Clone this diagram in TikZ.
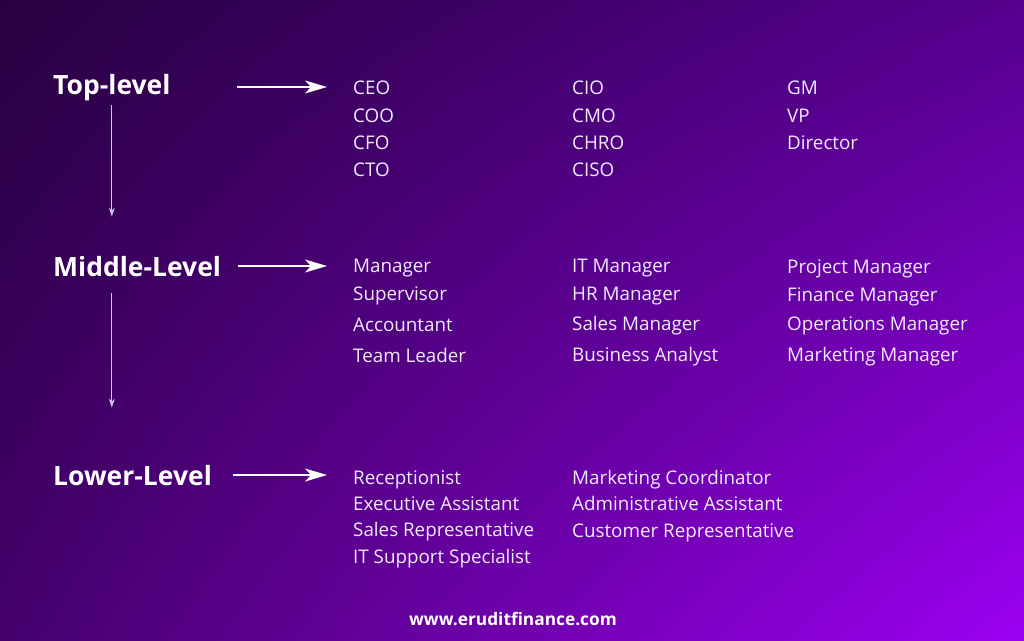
\documentclass[tikz,border=0pt]{standalone}
\usepackage{fontspec}
\setmainfont{Open Sans}
\usepackage{tikz}
\usetikzlibrary{arrows.meta, positioning, shadings}

\definecolor{bgTL}{HTML}{280040}
\definecolor{bgTR}{HTML}{54008E}
\definecolor{bgBL}{HTML}{44006C}
\definecolor{bgBR}{HTML}{9C00F2}
\definecolor{roletext}{HTML}{F3EAFF}
\definecolor{downline}{HTML}{D2C2F0}

\begin{document}
\begin{tikzpicture}[
    x=1pt, y=-1pt,
    level/.style={
      anchor=west, inner sep=0pt, text=white,
      font=\fontsize{26.5}{30}\selectfont\bfseries
    },
    role/.style={
      anchor=north west, inner sep=0pt, text=roletext, align=left,
      font=\fontsize{18.8}{27.3}\selectfont
    },
    rel/.style={-{Stealth[length=22pt, width=13pt, inset=6pt]}, line width=1.8pt, white},
    down/.style={-{Stealth[length=9pt, width=6pt]}, line width=0.9pt, downline},
  ]

  \shade[lower left=bgBL, upper left=bgTL, upper right=bgTR, lower right=bgBR]
    (0,0) rectangle (1024,640);
  \useasboundingbox (0,0) rectangle (1024,640);

  % level headings
  \node[level] (top) at (53,88) {Top-level};
  \node[level] (middle) at (53,267) {Middle-Level};
  \node[level] (lower) at (53,476) {Lower-Level};

  % top level roles
  \node[role] (topA) at (353,81) {CEO\\COO\\CFO\\CTO};
  \node[role] (topB) at (572,81) {CIO\\CMO\\CHRO\\CISO};
  \node[role] (topC) at (787,81) {GM\\VP\\Director};

  % middle level roles
  \node[role] (midA) at (353,259) {Manager\\[1pt]Supervisor\\[3pt]Accountant\\[4pt]Team Leader};
  \node[role] (midB) at (572,259) {IT Manager\\[1pt]HR Manager\\[2pt]Sales Manager\\[4pt]Business Analyst};
  \node[role] (midC) at (787,259) {Project Manager\\[1pt]Finance Manager\\[2pt]Operations Manager\\[4pt]Marketing Manager};

  % lower level roles
  \node[role] (lowA) at (353,470) {Receptionist\\[-1pt]Executive Assistant\\[-1pt]Sales Representative\\[0pt]IT Support Specialist};
  \node[role] (lowB) at (572,470) {Marketing Coordinator\\[-1pt]Administrative Assistant\\[-1pt]Customer Representative};

  \node[text=white, font=\fontsize{17.3}{20}\selectfont\bfseries] (site) at (513,619) {www.eruditfinance.com};

  \coordinate (topOut) at (237,87);
  \coordinate (midOut) at (238,266);
  \coordinate (lowOut) at (233,475);
  \draw[rel] (topOut) -- ([xshift=-26pt]topOut -| topA.west);
  \draw[rel] (midOut) -- ([xshift=-26pt]midOut -| midA.west);
  \draw[rel] (lowOut) -- ([xshift=-26pt]lowOut -| lowA.west);

  \draw[down] ([yshift=-4pt]top.south) -- ([yshift=40pt]top.south |- middle.north);
  \draw[down] ([yshift=-16pt]top.south |- middle.south) -- ([yshift=58pt]top.south |- lower.north);
\end{tikzpicture}
\end{document}
